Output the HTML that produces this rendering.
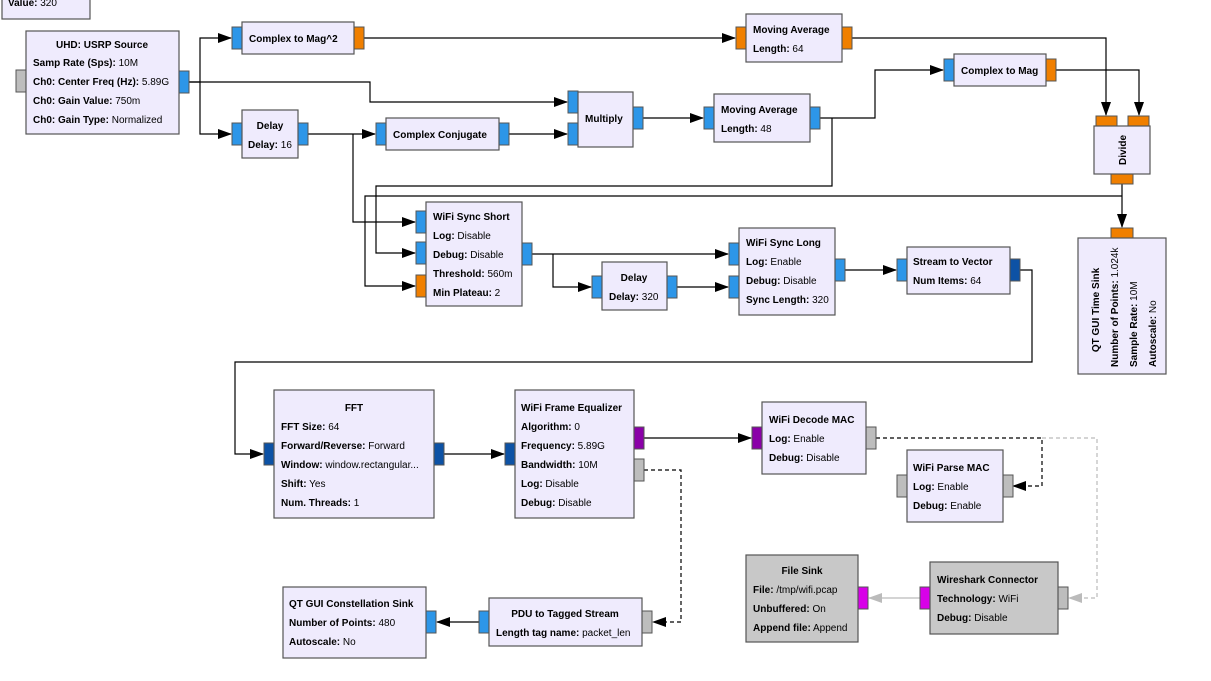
<!DOCTYPE html>
<html><head><meta charset="utf-8"><style>
html,body{margin:0;padding:0;background:#fff;}
svg{display:block;font-family:"Liberation Sans",sans-serif;font-size:10px;}
.b{fill:#efebfd;stroke:#555;stroke-width:1.2}
.g{fill:#c8c8c8;stroke:#555;stroke-width:1.2}
.t{font-weight:bold}
.w{stroke:#000;stroke-width:1.2;fill:none}
.d{stroke:#000;stroke-width:1.2;fill:none;stroke-dasharray:4,3}
.l{stroke:#bbb;stroke-width:1.2;fill:none}
.ld{stroke:#bbb;stroke-width:1.2;fill:none;stroke-dasharray:4,3}
.pb{fill:#2d96e8;stroke:#555}
.po{fill:#f07f00;stroke:#555}
.pn{fill:#0d52a5;stroke:#555}
.pp{fill:#8a00a8;stroke:#555}
.pm{fill:#d800e8;stroke:#555}
.pg{fill:#bdbdbd;stroke:#555}
</style></head><body>
<svg width="1211" height="681" viewBox="0 0 1211 681">
<defs>
<marker id="a" markerWidth="14" markerHeight="10" refX="13" refY="5" orient="auto" markerUnits="userSpaceOnUse"><path d="M0,0 L14,5 L0,10 z" fill="#000"/></marker>
<marker id="ag" markerWidth="14" markerHeight="10" refX="13" refY="5" orient="auto" markerUnits="userSpaceOnUse"><path d="M0,0 L14,5 L0,10 z" fill="#bbb"/></marker>
</defs>

<path class="w" d="M189,82 H200 V38 H231" marker-end="url(#a)"/>
<path class="w" d="M200,82 V134 H231" marker-end="url(#a)"/>
<path class="w" d="M189,82 H370 V102 H567" marker-end="url(#a)"/>
<path class="w" d="M364,38 H735" marker-end="url(#a)"/>
<path class="w" d="M308,134 H375" marker-end="url(#a)"/>
<path class="w" d="M353,134 V222 H415" marker-end="url(#a)"/>
<path class="w" d="M509,134 H567" marker-end="url(#a)"/>
<path class="w" d="M643,118 H703" marker-end="url(#a)"/>
<path class="w" d="M820,118 H875 V70 H943" marker-end="url(#a)"/>
<path class="w" d="M832,118 V186 H376 V253 H415" marker-end="url(#a)"/>
<path class="w" d="M1056,70 H1139 V115" marker-end="url(#a)"/>
<path class="w" d="M852,38 H1106 V115" marker-end="url(#a)"/>
<path class="w" d="M1122,184 V227" marker-end="url(#a)"/>
<path class="w" d="M1122,196 H365 V286 H415" marker-end="url(#a)"/>
<path class="w" d="M532,254 H728" marker-end="url(#a)"/>
<path class="w" d="M553,254 V287 H591" marker-end="url(#a)"/>
<path class="w" d="M677,287 H728" marker-end="url(#a)"/>
<path class="w" d="M845,270 H896" marker-end="url(#a)"/>
<path class="w" d="M1020,270 H1032 V362 H235 V454 H263" marker-end="url(#a)"/>
<path class="w" d="M444,454 H504" marker-end="url(#a)"/>
<path class="w" d="M644,438 H751" marker-end="url(#a)"/>
<path class="d" d="M644,470 H681 V622 H653" marker-end="url(#a)"/>
<path class="d" d="M876,438 H1042 V486 H1013" marker-end="url(#a)"/>
<path class="ld" d="M1042,438 H1097 V598 H1069" marker-end="url(#ag)"/>
<path class="l" d="M920,598 H869" marker-end="url(#ag)"/>
<path class="w" d="M479,622 H437" marker-end="url(#a)"/>

<rect class="b" x="2" y="-10" width="88" height="29"/>
<text x="8" y="6"><tspan class="t">Value:</tspan> 320</text>

<rect class="pg" x="16" y="70" width="10" height="22"/>
<rect class="pb" x="179" y="71" width="10" height="22"/>
<rect class="b" x="26" y="31" width="153" height="103"/>
<text x="102" y="48" text-anchor="middle" class="t">UHD: USRP Source</text>
<text x="33" y="66"><tspan class="t">Samp Rate (Sps):</tspan> 10M</text>
<text x="33" y="85"><tspan class="t">Ch0: Center Freq (Hz):</tspan> 5.89G</text>
<text x="33" y="104"><tspan class="t">Ch0: Gain Value:</tspan> 750m</text>
<text x="33" y="123"><tspan class="t">Ch0: Gain Type:</tspan> Normalized</text>

<rect class="pb" x="232" y="27" width="10" height="22"/>
<rect class="po" x="354" y="27" width="10" height="22"/>
<rect class="b" x="242" y="22" width="112" height="32"/>
<text x="249" y="42" class="t">Complex to Mag^2</text>

<rect class="pb" x="232" y="123" width="10" height="22"/>
<rect class="pb" x="298" y="123" width="10" height="22"/>
<rect class="b" x="242" y="110" width="56" height="48"/>
<text x="270" y="129" text-anchor="middle" class="t">Delay</text>
<text x="248" y="148"><tspan class="t">Delay:</tspan> 16</text>

<rect class="pb" x="376" y="123" width="10" height="22"/>
<rect class="pb" x="499" y="123" width="10" height="22"/>
<rect class="b" x="386" y="118" width="113" height="32"/>
<text x="393" y="138" class="t">Complex Conjugate</text>

<rect class="pb" x="568" y="91" width="10" height="22"/>
<rect class="pb" x="568" y="123" width="10" height="22"/>
<rect class="pb" x="633" y="107" width="10" height="22"/>
<rect class="b" x="578" y="92" width="55" height="55"/>
<text x="585" y="122" class="t">Multiply</text>

<rect class="po" x="736" y="27" width="10" height="22"/>
<rect class="po" x="842" y="27" width="10" height="22"/>
<rect class="b" x="746" y="14" width="96" height="48"/>
<text x="753" y="33" class="t">Moving Average</text>
<text x="753" y="52"><tspan class="t">Length:</tspan> 64</text>

<rect class="pb" x="704" y="107" width="10" height="22"/>
<rect class="pb" x="810" y="107" width="10" height="22"/>
<rect class="b" x="714" y="94" width="96" height="48"/>
<text x="721" y="113" class="t">Moving Average</text>
<text x="721" y="132"><tspan class="t">Length:</tspan> 48</text>

<rect class="pb" x="944" y="59" width="10" height="22"/>
<rect class="po" x="1046" y="59" width="10" height="22"/>
<rect class="b" x="954" y="54" width="92" height="32"/>
<text x="961" y="74" class="t">Complex to Mag</text>

<rect class="po" x="1096" y="116" width="21" height="10"/>
<rect class="po" x="1128" y="116" width="21" height="10"/>
<rect class="po" x="1111" y="174" width="22" height="10"/>
<rect class="b" x="1094" y="126" width="56" height="48"/>
<text transform="translate(1126,150) rotate(-90)" text-anchor="middle" class="t">Divide</text>

<rect class="po" x="1111" y="228" width="22" height="10"/>
<rect class="b" x="1078" y="238" width="88" height="136"/>
<text transform="translate(1099,310) rotate(-90)" text-anchor="middle" class="t">QT GUI Time Sink</text>
<text transform="translate(1118,367) rotate(-90)"><tspan class="t">Number of Points:</tspan> 1.024k</text>
<text transform="translate(1137,367) rotate(-90)"><tspan class="t">Sample Rate:</tspan> 10M</text>
<text transform="translate(1156,367) rotate(-90)"><tspan class="t">Autoscale:</tspan> No</text>

<rect class="pb" x="416" y="211" width="10" height="22"/>
<rect class="pb" x="416" y="242" width="10" height="22"/>
<rect class="po" x="416" y="275" width="10" height="22"/>
<rect class="pb" x="522" y="243" width="10" height="22"/>
<rect class="b" x="426" y="202" width="96" height="104"/>
<text x="433" y="220" class="t">WiFi Sync Short</text>
<text x="433" y="239"><tspan class="t">Log:</tspan> Disable</text>
<text x="433" y="258"><tspan class="t">Debug:</tspan> Disable</text>
<text x="433" y="277"><tspan class="t">Threshold:</tspan> 560m</text>
<text x="433" y="296"><tspan class="t">Min Plateau:</tspan> 2</text>

<rect class="pb" x="592" y="276" width="10" height="22"/>
<rect class="pb" x="667" y="276" width="10" height="22"/>
<rect class="b" x="602" y="262" width="65" height="48"/>
<text x="634" y="281" text-anchor="middle" class="t">Delay</text>
<text x="609" y="300"><tspan class="t">Delay:</tspan> 320</text>

<rect class="pb" x="729" y="243" width="10" height="22"/>
<rect class="pb" x="729" y="276" width="10" height="22"/>
<rect class="pb" x="835" y="259" width="10" height="22"/>
<rect class="b" x="739" y="228" width="96" height="87"/>
<text x="746" y="246" class="t">WiFi Sync Long</text>
<text x="746" y="265"><tspan class="t">Log:</tspan> Enable</text>
<text x="746" y="284"><tspan class="t">Debug:</tspan> Disable</text>
<text x="746" y="303"><tspan class="t">Sync Length:</tspan> 320</text>

<rect class="pb" x="897" y="259" width="10" height="22"/>
<rect class="pn" x="1010" y="259" width="10" height="22"/>
<rect class="b" x="907" y="247" width="103" height="47"/>
<text x="913" y="265" class="t">Stream to Vector</text>
<text x="913" y="284"><tspan class="t">Num Items:</tspan> 64</text>

<rect class="pn" x="264" y="443" width="10" height="22"/>
<rect class="pn" x="434" y="443" width="10" height="22"/>
<rect class="b" x="274" y="390" width="160" height="128"/>
<text x="354" y="411" text-anchor="middle" class="t">FFT</text>
<text x="281" y="430"><tspan class="t">FFT Size:</tspan> 64</text>
<text x="281" y="449"><tspan class="t">Forward/Reverse:</tspan> Forward</text>
<text x="281" y="468"><tspan class="t">Window:</tspan> window.rectangular...</text>
<text x="281" y="487"><tspan class="t">Shift:</tspan> Yes</text>
<text x="281" y="506"><tspan class="t">Num. Threads:</tspan> 1</text>

<rect class="pn" x="505" y="443" width="10" height="22"/>
<rect class="pp" x="634" y="427" width="10" height="22"/>
<rect class="pg" x="634" y="459" width="10" height="22"/>
<rect class="b" x="515" y="390" width="119" height="128"/>
<text x="521" y="411" class="t">WiFi Frame Equalizer</text>
<text x="521" y="430"><tspan class="t">Algorithm:</tspan> 0</text>
<text x="521" y="449"><tspan class="t">Frequency:</tspan> 5.89G</text>
<text x="521" y="468"><tspan class="t">Bandwidth:</tspan> 10M</text>
<text x="521" y="487"><tspan class="t">Log:</tspan> Disable</text>
<text x="521" y="506"><tspan class="t">Debug:</tspan> Disable</text>

<rect class="pp" x="752" y="427" width="10" height="22"/>
<rect class="pg" x="866" y="427" width="10" height="22"/>
<rect class="b" x="762" y="402" width="104" height="72"/>
<text x="769" y="423" class="t">WiFi Decode MAC</text>
<text x="769" y="442"><tspan class="t">Log:</tspan> Enable</text>
<text x="769" y="461"><tspan class="t">Debug:</tspan> Disable</text>

<rect class="pg" x="897" y="475" width="10" height="22"/>
<rect class="pg" x="1003" y="475" width="10" height="22"/>
<rect class="b" x="907" y="450" width="96" height="72"/>
<text x="913" y="471" class="t">WiFi Parse MAC</text>
<text x="913" y="490"><tspan class="t">Log:</tspan> Enable</text>
<text x="913" y="509"><tspan class="t">Debug:</tspan> Enable</text>

<rect class="pm" x="858" y="587" width="10" height="22"/>
<rect class="g" x="746" y="555" width="112" height="87"/>
<text x="802" y="574" text-anchor="middle" class="t">File Sink</text>
<text x="753" y="593"><tspan class="t">File:</tspan> /tmp/wifi.pcap</text>
<text x="753" y="612"><tspan class="t">Unbuffered:</tspan> On</text>
<text x="753" y="631"><tspan class="t">Append file:</tspan> Append</text>

<rect class="pm" x="920" y="587" width="10" height="22"/>
<rect class="pg" x="1058" y="587" width="10" height="22"/>
<rect class="g" x="930" y="562" width="128" height="72"/>
<text x="937" y="583" class="t">Wireshark Connector</text>
<text x="937" y="602"><tspan class="t">Technology:</tspan> WiFi</text>
<text x="937" y="621"><tspan class="t">Debug:</tspan> Disable</text>

<rect class="pb" x="479" y="611" width="10" height="22"/>
<rect class="pg" x="642" y="611" width="10" height="22"/>
<rect class="b" x="489" y="598" width="153" height="48"/>
<text x="565" y="617" text-anchor="middle" class="t">PDU to Tagged Stream</text>
<text x="496" y="636"><tspan class="t">Length tag name:</tspan> packet_len</text>

<rect class="pb" x="426" y="611" width="10" height="22"/>
<rect class="b" x="283" y="587" width="143" height="71"/>
<text x="289" y="607" class="t">QT GUI Constellation Sink</text>
<text x="289" y="626"><tspan class="t">Number of Points:</tspan> 480</text>
<text x="289" y="645"><tspan class="t">Autoscale:</tspan> No</text>
</svg>
</body></html>
